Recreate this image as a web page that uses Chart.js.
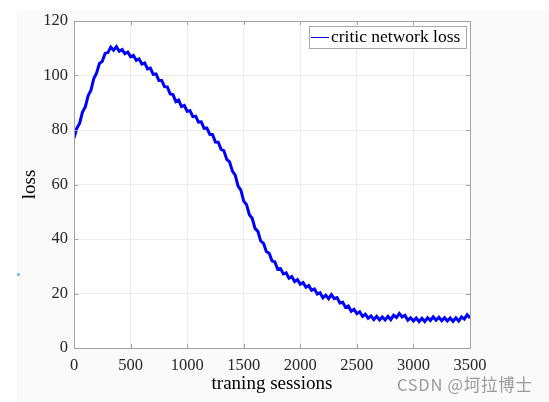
<!DOCTYPE html>
<html>
<head>
<meta charset="utf-8">
<script src="https://cdn.jsdelivr.net/npm/chart.js@4/dist/chart.umd.min.js"></script>
<style>
  html, body { margin: 0; padding: 0; background: #ffffff; }
  #wrap { width: 549px; height: 402px; position: relative; }
</style>
</head>
<body>
<div id="wrap"><canvas id="c" width="549" height="402"></canvas></div>
<script>
const sessions = [
  0, 25, 50, 75, 100, 125, 150, 175, 200, 225, 250, 275, 300, 325, 350, 375,
  400, 425, 450, 475, 500, 525, 550, 575, 600, 625, 650, 675, 700, 725, 750, 775,
  800, 825, 850, 875, 900, 925, 950, 975, 1000, 1025, 1050, 1075, 1100, 1125, 1150, 1175,
  1200, 1225, 1250, 1275, 1300, 1325, 1350, 1375, 1400, 1425, 1450, 1475, 1500, 1525, 1550, 1575,
  1600, 1625, 1650, 1675, 1700, 1725, 1750, 1775, 1800, 1825, 1850, 1875, 1900, 1925, 1950, 1975,
  2000, 2025, 2050, 2075, 2100, 2125, 2150, 2175, 2200, 2225, 2250, 2275, 2300, 2325, 2350, 2375,
  2400, 2425, 2450, 2475, 2500, 2525, 2550, 2575, 2600, 2625, 2650, 2675, 2700, 2725, 2750, 2775,
  2800, 2825, 2850, 2875, 2900, 2925, 2950, 2975, 3000, 3025, 3050, 3075, 3100, 3125, 3150, 3175,
  3200, 3225, 3250, 3275, 3300, 3325, 3350, 3375, 3400, 3425, 3450, 3475, 3500
];
const criticLoss = [
  77.0, 80.6, 82.5, 86.6, 88.5, 92.6, 94.6, 98.9, 100.9, 104.4, 105.2, 108.1, 108.4, 110.4, 109.3, 110.6,
  108.9, 109.5, 108.0, 108.6, 106.9, 107.4, 105.6, 106.1, 104.2, 104.6, 102.4, 102.7, 100.4, 100.6, 98.2, 98.2,
  95.9, 95.8, 93.2, 93.0, 90.4, 91.0, 88.6, 89.0, 86.9, 87.1, 84.9, 85.1, 82.9, 83.0, 80.6, 80.7,
  78.4, 78.3, 75.6, 75.5, 72.9, 72.4, 69.2, 68.3, 64.9, 63.4, 59.4, 57.9, 53.9, 52.6, 48.9, 47.6,
  43.9, 42.8, 39.3, 38.4, 35.4, 34.8, 32.0, 31.6, 28.9, 29.2, 27.2, 27.6, 25.6, 26.2, 24.4, 25.1,
  23.4, 24.0, 22.3, 22.9, 21.2, 21.7, 19.8, 20.3, 18.4, 19.4, 18.1, 19.6, 18.1, 18.5, 16.5, 16.8,
  14.9, 15.4, 13.5, 14.2, 12.6, 13.3, 11.6, 12.4, 10.9, 11.8, 10.4, 11.6, 10.3, 11.4, 10.3, 11.6,
  10.4, 12.0, 11.2, 12.7, 11.4, 12.0, 10.2, 11.1, 9.9, 11.0, 9.7, 10.9, 9.7, 11.1, 10.1, 11.4,
  10.2, 11.3, 10.0, 11.1, 9.9, 11.0, 9.8, 11.1, 9.9, 11.4, 10.6, 12.2, 11.0
];
const xTickValues = [0, 500, 1000, 1500, 2000, 2500, 3000, 3500];
const yTickValues = [0, 20, 40, 60, 80, 100, 120];
const seriesLabel = 'critic network loss';
const xTitle = 'traning sessions';
const yTitle = 'loss';
const watermark = 'CSDN @坷拉博士';

const SERIF = '"Liberation Serif", "Times New Roman", serif';
const AXIS_COLOR = '#a3a3a3';

const framePlugin = {
  id: 'frame',
  beforeDraw(chart) {
    const ctx = chart.ctx;
    const a = chart.chartArea;
    ctx.save();
    ctx.fillStyle = '#fafafa';
    ctx.fillRect(17, 10, 532, 392);
    ctx.fillStyle = '#ffffff';
    ctx.fillRect(a.left, a.top, a.right - a.left, a.bottom - a.top);
    ctx.restore();
  },
  afterDraw(chart) {
    const ctx = chart.ctx;
    const a = chart.chartArea;
    const xs = chart.scales.x, ys = chart.scales.y;
    ctx.save();
    ctx.strokeStyle = AXIS_COLOR;
    ctx.lineWidth = 1;
    ctx.strokeRect(Math.round(a.left) + 0.5, Math.round(a.top) + 0.5,
                   Math.round(a.right - a.left), Math.round(a.bottom - a.top));
    const tl = 4;
    ctx.beginPath();
    xTickValues.forEach(v => {
      const px = Math.round(xs.getPixelForValue(v)) + 0.5;
      ctx.moveTo(px, a.bottom); ctx.lineTo(px, a.bottom - tl);
      ctx.moveTo(px, a.top); ctx.lineTo(px, a.top + tl);
    });
    yTickValues.forEach(v => {
      const py = Math.round(ys.getPixelForValue(v)) + 0.5;
      ctx.moveTo(a.left, py); ctx.lineTo(a.left + tl, py);
      ctx.moveTo(a.right, py); ctx.lineTo(a.right - tl, py);
    });
    ctx.stroke();

    // legend box
    const lx = 309, ly = 26, lw = 157, lh = 22;
    ctx.fillStyle = '#ffffff';
    ctx.fillRect(lx, ly, lw, lh);
    ctx.strokeStyle = '#a8a8a8';
    ctx.strokeRect(lx + 0.5, ly + 0.5, lw, lh);
    ctx.strokeStyle = '#0000ff';
    ctx.lineWidth = 1;
    ctx.beginPath();
    ctx.moveTo(311, 37.5); ctx.lineTo(329, 37.5);
    ctx.stroke();
    ctx.fillStyle = '#000000';
    ctx.font = '17.5px ' + SERIF;
    ctx.textBaseline = 'middle';
    ctx.textAlign = 'left';
    ctx.fillText(seriesLabel, 331, 37.5);

    // watermark
    ctx.fillStyle = '#9a9a9a';
    ctx.font = '16.5px "Noto Sans CJK SC", "Noto Sans", sans-serif';
    ctx.textBaseline = 'middle';
    const w = ctx.measureText(watermark).width;
    const n = Array.from(watermark).length;
    if (w < 135) ctx.letterSpacing = ((135 - w) / (n - 1)).toFixed(2) + 'px';
    ctx.fillText(watermark, 397, 385);
    ctx.letterSpacing = '0px';

    ctx.fillStyle = '#7fc0e8';
    ctx.fillRect(17, 273, 3, 3);
    ctx.restore();
  }
};

new Chart(document.getElementById('c'), {
  type: 'line',
  data: {
    datasets: [{
      label: seriesLabel,
      data: sessions.map((s, i) => ({ x: s, y: criticLoss[i] })),
      borderColor: '#0000ff',
      backgroundColor: '#0000ff',
      borderWidth: 3,
      pointRadius: 0,
      tension: 0,
      fill: false
    }]
  },
  options: {
    responsive: false,
    animation: false,
    layout: { padding: { left: 0, right: 79, top: 21, bottom: 0 } },
    plugins: { legend: { display: false }, tooltip: { enabled: false } },
    scales: {
      x: {
        type: 'linear',
        min: 0, max: 3500,
        afterBuildTicks: s => { s.ticks = xTickValues.map(v => ({ value: v })); },
        afterFit: s => { s.height = 54; },
        grid: { color: '#ececec', drawTicks: false, lineWidth: 1 },
        border: { display: false },
        ticks: {
          padding: 8, color: '#262626', maxRotation: 0, autoSkip: false,
          font: { family: SERIF, size: 16.5 },
          callback: v => String(v)
        },
        title: {
          display: true, text: xTitle, color: '#000000',
          font: { family: SERIF, size: 19, lineHeight: 1.2 },
          padding: { top: 0, bottom: 6.6 }
        }
      },
      y: {
        type: 'linear',
        min: 0, max: 120,
        afterBuildTicks: s => { s.ticks = yTickValues.map(v => ({ value: v })); },
        afterFit: s => { s.width = 74; },
        grid: { color: '#ececec', drawTicks: false, lineWidth: 1 },
        border: { display: false },
        ticks: {
          padding: 6, color: '#262626', autoSkip: false,
          font: { family: SERIF, size: 16.5 },
          callback: v => String(v)
        },
        title: {
          display: true, text: yTitle, color: '#000000',
          font: { family: SERIF, size: 19, lineHeight: 1.2 },
          padding: { top: 18.6, bottom: 0 }
        }
      }
    }
  },
  plugins: [framePlugin]
});
</script>
</body>
</html>
